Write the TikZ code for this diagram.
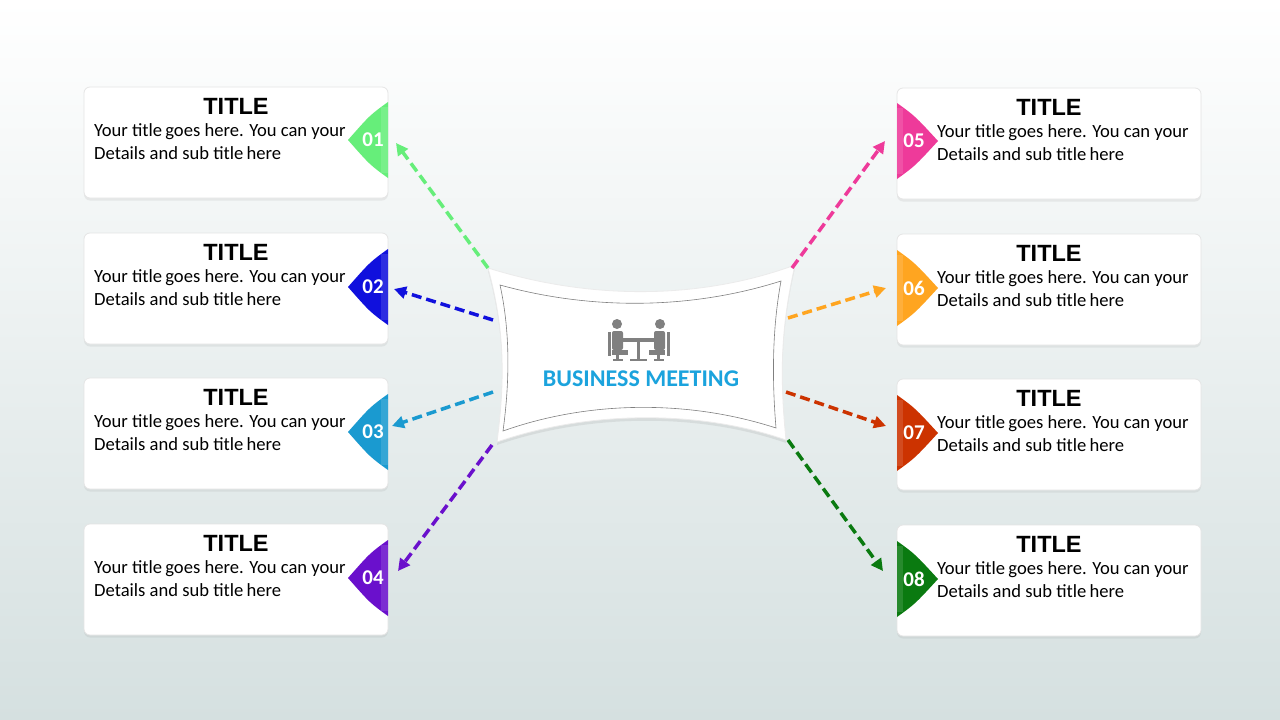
\documentclass[tikz,border=0pt]{standalone}
\usepackage{fontspec}
\setmainfont{Carlito}
\newfontfamily\titlefont{Liberation Sans}
\usetikzlibrary{arrows.meta,shadows}
\definecolor{cA}{HTML}{66EE7A}\definecolor{cB}{HTML}{1010DD}
\definecolor{cC}{HTML}{1A9AD0}\definecolor{cD}{HTML}{6A10CC}
\definecolor{cE}{HTML}{EE3A9A}\definecolor{cF}{HTML}{FFA520}
\definecolor{cG}{HTML}{CC3300}\definecolor{cH}{HTML}{0A7A10}
\definecolor{bgb}{HTML}{D5E0E0}\definecolor{iconc}{HTML}{808080}
\definecolor{bmc}{HTML}{1BA3DD}
\tikzset{
 card/.style={fill=white,draw=black!10,line width=0.8pt,rounded corners=6pt,minimum width=304pt,minimum height=111pt,drop shadow={opacity=0.12,shadow xshift=0pt,shadow yshift=-2.5pt}},
 ttl/.style={font=\titlefont\bfseries\fontsize{23.5}{23.5}\selectfont,anchor=north},
 body/.style={font=\fontsize{18.6}{23}\selectfont,anchor=north west,align=left,inner sep=0pt},
 num/.style={font=\bfseries\fontsize{21}{21}\selectfont,text=white},
 conn/.style={line width=3.5pt,dash pattern=on 10pt off 5pt,-{Triangle[length=12pt,width=12pt]}}
}
\begin{document}
\begin{tikzpicture}[x=1pt,y=-1pt]
\shade[top color=white,bottom color=bgb] (0,0) rectangle (1280,720);
\useasboundingbox (0,0) rectangle (1280,720);
% cards
\foreach \i/\y in {1/87,2/233,3/378,4/524}{
 \node[card] (L\i) at (236,\y+55.5) {};
 \node[ttl] (LT\i) at (236,\y+8) {TITLE};
 \node[body] (LB\i) at (94,\y+36) {Your title\,goes here. You can your\\Details and sub title\,here};
}
\foreach \i/\y in {5/88,6/234,7/379,8/525}{
 \node[card] (R\i) at (1049,\y+55.5) {};
 \node[ttl] (RT\i) at (1049,\y+8) {TITLE};
 \node[body] (RB\i) at (937,\y+36) {Your title\,goes here. You can your\\Details and sub title\,here};
}
% badges left
\foreach \i/\c/\y in {1/cA/140,2/cB/287,3/cC/432,4/cD/578}{
 \fill[\c] (388,\y-38) .. controls (370,\y-25) .. (348,\y) .. controls (370,\y+25) .. (388,\y+38) -- cycle;
 \fill[white,opacity=.12] (381,\y-33) rectangle (388,\y+33);
 \node[num] (NL\i) at (373,\y) {0\i};
}
\foreach \i/\c/\y in {5/cE/141,6/cF/288,7/cG/433,8/cH/579}{
 \fill[\c] (897,\y-38) .. controls (915,\y-25) .. (938,\y) .. controls (915,\y+25) .. (897,\y+38) -- cycle;
 \fill[white,opacity=.12] (897,\y-33) rectangle (903,\y+33);
 \node[num] (NR\i) at (914,\y) {0\i};
}
% center shape
\fill[white,draw=black!8,line width=0.8pt,drop shadow={opacity=0.15,shadow xshift=0pt,shadow yshift=-3pt}]
 (488,268) .. controls (590,300) and (700,300) .. (795,265)
 .. controls (780,330) and (780,380) .. (786,440)
 .. controls (700,410) and (590,410) .. (497,442)
 .. controls (505,380) and (505,330) .. (488,268) -- cycle;
\draw[gray,line width=0.6pt]
 (500,285) .. controls (590,310) and (690,310) .. (781,281)
 .. controls (772,330) and (772,380) .. (776,428)
 .. controls (690,400) and (590,400) .. (503,431)
 .. controls (510,380) and (510,330) .. (500,285) -- cycle;
\coordinate (c1) at (488,268);\coordinate (c2) at (493,320);
\coordinate (c3) at (493,392);\coordinate (c4) at (492,445);
\coordinate (c5) at (792,268);\coordinate (c6) at (788,318);
\coordinate (c7) at (786,392);\coordinate (c8) at (788,440);
% icon
\begin{scope}[iconc]
 \fill (617,324) circle (5);\fill (660,324) circle (5);
 \fill[rounded corners=2pt] (612,331) rectangle (623,350);
 \fill[rounded corners=2pt] (654,331) rectangle (665,350);
 \fill (608,332) rectangle (611,356);\fill (667,332) rectangle (670,356);
 \fill (612,350) rectangle (628,355);\fill (649,350) rectangle (665,355);
 \fill (616,355) rectangle (619,361);\fill (657,355) rectangle (660,361);
 \fill (613,359) rectangle (623,361);\fill (654,359) rectangle (664,361);
 \fill (621,338) rectangle (656,342);\fill (637,342) rectangle (640,359);
 \fill (630,359) rectangle (647,361);
 \fill (620,338) rectangle (633,341);\fill (644,338) rectangle (657,341);
\end{scope}
\node[font=\bfseries\fontsize{24}{24}\selectfont,text=bmc] (bm) at (641,379) {BUSINESS MEETING};
% connectors
\draw[conn,cA] (c1) -- (396,143);
\draw[conn,cB] (c2) -- (394,289);
\draw[conn,cC] (c3) -- (392,426);
\draw[conn,cD] (c4) -- (398,571);
\draw[conn,cE] (c5) -- (885,141);
\draw[conn,cF] (c6) -- (886,288);
\draw[conn,cG] (c7) -- (886,426);
\draw[conn,cH] (c8) -- (883,571);
\end{tikzpicture}
\end{document}
